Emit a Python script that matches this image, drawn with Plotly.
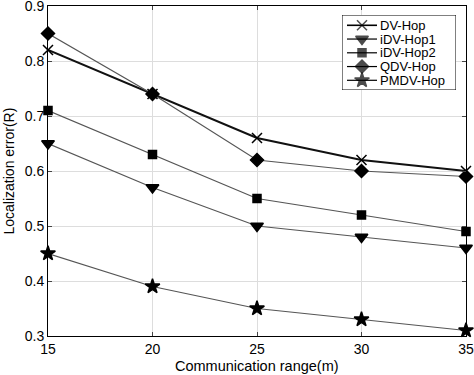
import plotly.graph_objects as go

x_vals = [15, 20, 25, 30, 35]
dv_hop = [0.82, 0.74, 0.66, 0.62, 0.60]
idv_hop1 = [0.65, 0.57, 0.50, 0.48, 0.46]
idv_hop2 = [0.71, 0.63, 0.55, 0.52, 0.49]
qdv_hop = [0.85, 0.74, 0.62, 0.60, 0.59]
pmdv_hop = [0.45, 0.39, 0.35, 0.33, 0.31]

series_names = ["DV-Hop", "iDV-Hop1", "iDV-Hop2", "QDV-Hop", "PMDV-Hop"]
x_ticks = [15, 20, 25, 30, 35]
y_ticks = [0.3, 0.4, 0.5, 0.6, 0.7, 0.8, 0.9]

series_data = [dv_hop, idv_hop1, idv_hop2, qdv_hop, pmdv_hop]
styles = [
    ("x-thin-open", 10, "#111111", 2.0),
    ("triangle-down", 11, "#555555", 1.2),
    ("square", 8, "#555555", 1.2),
    ("diamond", 10, "#555555", 1.2),
    ("star", 11, "#555555", 1.2),
]

FONT = "Liberation Sans, Arial, sans-serif"

# plot area in pixels
W, H = 474, 375
L, R, T, B = 48, 8, 6, 39
pw, ph = W - L - R, H - T - B

fig = go.Figure()
for name, ys, (sym, size, lc, lw) in zip(series_names, series_data, styles):
    fig.add_trace(go.Scatter(
        x=x_vals, y=ys, name=name, mode="lines+markers",
        line=dict(color=lc, width=lw),
        marker=dict(symbol=sym, size=size, color="black",
                    line=dict(color="black", width=1.5)),
        showlegend=False, xaxis="x", yaxis="y", cliponaxis=False,
    ))

# custom legend drawn in its own small subplot (box: px 342-456 x, 15-90 y)
lx0, lx1, ly0, ly1 = 342, 456, 15, 90
leg_dom_x = [(lx0 - L) / pw, (lx1 - L) / pw]
leg_dom_y = [(H - B - ly1) / ph, (H - B - ly0) / ph]
lw_px, lh_px = lx1 - lx0, ly1 - ly0

fig.add_trace(go.Scatter(
    x=[0, lw_px, lw_px, 0, 0], y=[0, 0, lh_px, lh_px, 0],
    mode="lines", fill="toself", fillcolor="white",
    line=dict(color="black", width=1), hoverinfo="skip",
    showlegend=False, xaxis="x2", yaxis="y2",
))
row_h = 13.75
row0 = 10.3
for i, (name, (sym, size, lc, lw)) in enumerate(zip(series_names, styles)):
    ry = row0 + i * row_h
    fig.add_trace(go.Scatter(
        x=[5, 20, 35], y=[ry, ry, ry], mode="lines+markers",
        line=dict(color="black", width=1.2 if i else 1.6),
        marker=dict(symbol=sym, size=[0, size, 0], color="black",
                    line=dict(color="black", width=1.5)),
        hoverinfo="skip", showlegend=False, xaxis="x2", yaxis="y2",
    ))
    fig.add_annotation(
        x=36, y=ry, xref="x2", yref="y2", text=name, showarrow=False,
        xanchor="left", yanchor="middle",
        font=dict(family=FONT, size=13, color="black"),
    )

fig.update_layout(
    width=W, height=H,
    margin=dict(l=L, r=R, t=T, b=B),
    paper_bgcolor="white", plot_bgcolor="white",
    font=dict(family=FONT, color="black", size=13),
    showlegend=False,
    xaxis=dict(
        range=[15, 35], tickvals=x_ticks, ticks="inside", ticklen=4,
        showgrid=True, gridcolor="#dddddd", gridwidth=1,
        showline=True, linecolor="black", linewidth=1, mirror="ticks",
        tickfont=dict(size=14, family=FONT), zeroline=False, automargin=False,
        ticklabeloverflow="allow",
    ),
    yaxis=dict(
        range=[0.3, 0.9], tickvals=y_ticks, tickformat=".1f", ticks="inside", ticklen=4,
        showgrid=True, gridcolor="#dddddd", gridwidth=1,
        showline=True, linecolor="black", linewidth=1, mirror="ticks", zeroline=False,
        tickfont=dict(size=14, family=FONT), automargin=False,
        ticklabeloverflow="allow",
    ),
    xaxis2=dict(domain=leg_dom_x, range=[0, lw_px], visible=False, anchor="y2",
                fixedrange=True),
    yaxis2=dict(domain=leg_dom_y, range=[lh_px, 0], visible=False, anchor="x2",
                fixedrange=True),
)

fig.add_annotation(
    x=0.5, y=-(366 - (H - B)) / ph, xref="paper", yref="paper",
    text="Communication range(m)", showarrow=False,
    xanchor="center", yanchor="middle",
    font=dict(family=FONT, size=14.5, color="black"),
)
fig.add_annotation(
    x=(8.5 - L) / pw, y=0.5, xref="paper", yref="paper",
    text="Localization error(R)", showarrow=False, textangle=-90,
    xanchor="center", yanchor="middle",
    font=dict(family=FONT, size=14, color="black"),
)

fig.write_html(
    "out.html",
    config={"displayModeBar": False},
    post_script="document.body.style.margin='0px';document.body.style.overflow='hidden';",
)
